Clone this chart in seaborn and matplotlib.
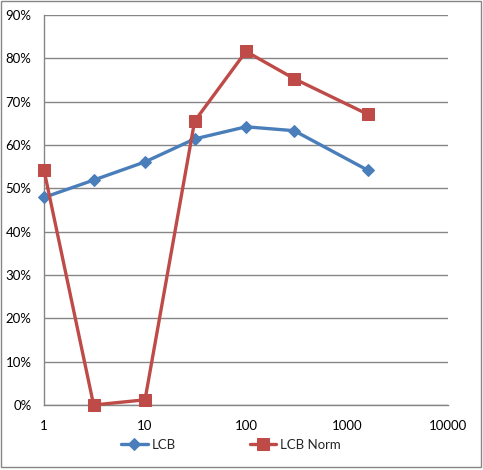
import matplotlib
matplotlib.use("Agg")
import matplotlib.pyplot as plt
import matplotlib.ticker as mticker
from matplotlib.patches import Rectangle
import seaborn as sns
import pandas as pd

x_vals = [1, 3.1, 10, 31, 100, 300, 1600]
lcb = [0.479, 0.519, 0.561, 0.614, 0.642, 0.633, 0.542]
lcb_norm = [0.542, 0.0, 0.012, 0.655, 0.816, 0.753, 0.671]
series_names = ["LCB", "LCB Norm"]
y_ticks = [0, 0.1, 0.2, 0.3, 0.4, 0.5, 0.6, 0.7, 0.8, 0.9]
x_ticks = [1, 10, 100, 1000, 10000]

sns.set_theme(style="white")
plt.rcParams['font.family'] = ['Lato', 'DejaVu Sans']

df = pd.DataFrame({
    "x": x_vals * 2,
    "y": lcb + lcb_norm,
    "series": [series_names[0]] * len(x_vals) + [series_names[1]] * len(x_vals),
})

fig = plt.figure(figsize=(4.83, 4.70), dpi=100)
ax = fig.add_axes([44 / 483, 65 / 470, (448 - 44) / 483, (405 - 15) / 470])

palette = {"LCB": "#4A7EBB", "LCB Norm": "#BE4B48"}
markers = {"LCB": "D", "LCB Norm": "s"}
sizes = {"LCB": 6.5, "LCB Norm": 8.5}
for name in series_names:
    sub = df[df["series"] == name]
    sns.lineplot(data=sub, x="x", y="y", ax=ax, color=palette[name], lw=2.4,
                 marker=markers[name], markersize=sizes[name],
                 markeredgecolor=palette[name], label=name, legend=False,
                 clip_on=False, zorder=3)

ax.set_xscale("log")
ax.set_xlim(1, 10000)
ax.set_ylim(0, 0.9)
ax.set_xticks(x_ticks)
ax.xaxis.set_major_formatter(mticker.FuncFormatter(lambda v, p: f"{int(round(v))}"))
ax.xaxis.set_minor_locator(mticker.NullLocator())
ax.set_yticks(y_ticks)
ax.yaxis.set_major_formatter(mticker.FuncFormatter(lambda v, p: f"{int(round(v * 100))}%"))
ax.set_xlabel("")
ax.set_ylabel("")

ax.grid(axis="y", color="#868686", lw=1)
ax.grid(axis="x", visible=False)
ax.set_axisbelow(True)
for s in ["top", "right"]:
    ax.spines[s].set_visible(False)
for s in ["left", "bottom"]:
    ax.spines[s].set_color("#868686")
    ax.spines[s].set_linewidth(1)
ax.tick_params(axis="both", direction="out", length=5, width=1, color="#868686",
               labelsize=9.5, labelcolor="black", pad=4)
ax.tick_params(axis="x", pad=6)

handles, labels = ax.get_legend_handles_labels()
fig.legend(handles, labels, loc="center", bbox_to_anchor=(231 / 483, 1 - 445 / 470),
           ncol=2, frameon=False, fontsize=9.5, columnspacing=5.6, handlelength=2.0,
           handletextpad=0.3)

fig.patches.append(Rectangle((1 / 483, 3 / 470), 480 / 483, 466 / 470, transform=fig.transFigure,
                             fill=False, edgecolor="#868686", lw=1))

fig.savefig("out.png", dpi=100)
